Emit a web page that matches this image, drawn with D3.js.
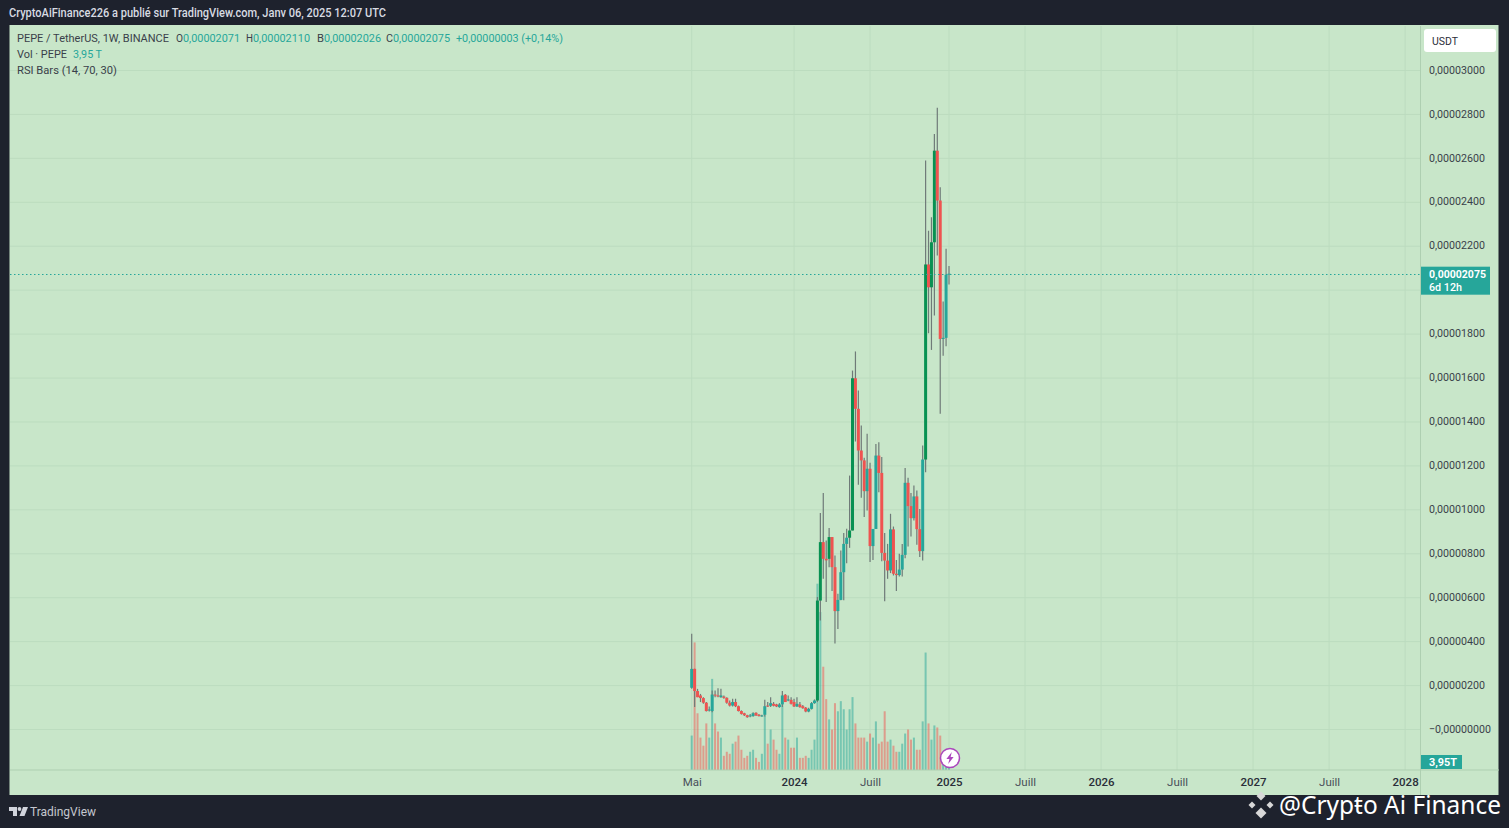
<!DOCTYPE html>
<html>
<head>
<meta charset="utf-8">
<script src="https://cdn.jsdelivr.net/npm/d3@7"></script>
<style>
html, body { margin: 0; background: #1e222d; overflow: hidden; }
svg { display: block; font-family: Roboto, sans-serif; }
</style>
</head>
<body>
<svg id="chart" width="1509" height="828"></svg>
<script>
// weekly candles, prices in units of 0.00000001
const firstWeek = new Date(2023, 4, 1)
const opens = [190,276,175,155,143,122,87,84,159,155,147,150,144,122,109,125,106,84,74,65,61,61,76,67,61,67,109,108,117,114,102,114,158,132,135,125,105,114,106,99,82,94,120,132,587,853,777,777,876,739,539,590,716,845,873,906,1599,1460,1270,1225,1085,1187,835,913,1247,1168,804,769,724,911,709,703,728,795,1123,1017,962,1061,912,812,1229,2117,2013,2218,2635,2408,1778,1783,2071]
const highs = [436,276,185,162,147,125,105,178,178,188,185,155,147,132,140,140,109,87,76,67,71,79,79,70,67,135,125,147,125,117,120,175,162,155,147,140,147,125,111,102,99,125,137,603,986,1077,860,917,876,792,618,815,894,914,1156,1634,1721,1543,1384,1237,1346,1214,913,1300,1308,1240,894,845,982,924,772,800,845,1191,1146,1077,1111,1088,1004,1293,2590,2271,2332,2711,2830,2469,1948,2188,2110]
const lows = [185,102,147,125,117,82,82,79,147,147,144,140,117,105,105,102,82,68,62,53,56,58,61,59,58,59,102,102,105,102,99,102,125,129,114,102,102,99,94,79,79,91,117,125,496,686,580,739,630,391,457,588,588,757,827,906,1311,1114,1055,967,997,762,772,913,1080,766,584,686,712,701,630,696,696,780,833,879,951,841,785,769,1171,1804,1728,1885,2158,1437,1702,1745,2026]
const closes = [276,175,147,143,122,84,91,159,155,150,155,144,122,109,125,106,84,71,65,56,64,74,64,61,64,106,106,120,108,105,114,155,125,137,117,105,117,102,97,82,94,120,132,587,853,777,770,876,739,539,590,716,845,873,906,1599,1460,1270,1225,1085,1187,835,913,1247,1168,804,769,724,911,709,703,728,795,1123,1017,962,1061,912,812,1229,2117,2013,2218,2635,2408,1778,1783,2070,2075]
// traded volume per week, in T
const volumes = [17,63,28,16,12,23,16,45,23,19,16,7,9,8,13,14,17,10,6,7,9,10,6,4,8,27,13,20,15,10,8,32,16,15,11,11,16,6,6,7,6,10,15,92,78,51,35,25,20,33,29,34,30,20,30,36,23,16,16,16,14,18,16,24,13,14,29,14,15,12,9,9,13,18,20,15,16,10,10,24,58,23,15,22,21,17,9,6,3.95]
// weeks where RSI Bars paints the candle as overbought
const overbought = [43,44,47,54,55,80,82,83]

const priceTicks = [3000,2800,2600,2400,2200,2000,1800,1600,1400,1200,1000,800,600,400,200,0]
const priceLabels = ["0,00003000","0,00002800","0,00002600","0,00002400","0,00002200","","0,00001800","0,00001600","0,00001400","0,00001200","0,00001000","0,00000800","0,00000600","0,00000400","0,00000200","−0,00000000"]
const timeTicks = [new Date(2023,4,1),new Date(2024,0,1),new Date(2024,6,1),new Date(2025,0,6),new Date(2025,6,7),new Date(2026,0,5),new Date(2026,6,6),new Date(2027,0,4),new Date(2027,6,5),new Date(2028,0,3)]
const timeLabels = ["Mai","2024","Juill","2025","Juill","2026","Juill","2027","Juill","2028"]
const boldTime = ["2024","2025","2026","2027","2028"]

const lastPrice = 2075
const lastVolume = 3.95

const UP = "#26a69a", DOWN = "#ef5350", HOT = "#089152", WICK = "#6f7a78"
const BG = "#c8e6c9", GRID = "#bcdcbf", INK = "#3a3f4a"
const pane = {left: 10, right: 1420.5, top: 26, bottom: 770, edge: 1499, foot: 795}
const week = 7 * 24 * 3600 * 1000

const svg = d3.select("#chart")
const bars = opens.map((o, i) => ({
  i, date: new Date(firstWeek.getTime() + i * week),
  o, h: highs[i], l: lows[i], c: closes[i], v: volumes[i],
  hot: overbought.includes(i)
}))

const x = d3.scaleTime().domain([firstWeek, new Date(2025,0,6)]).range([691.7, 949])
const y = d3.scaleLinear().domain([0, 3000]).range([729.5, 70.5])
const yVol = d3.scaleLinear().domain([0, 100]).range([pane.bottom, pane.bottom - 202.5])

// squeeze a text to the width it has in the picture
function label(xPos, yPos, str, width, fill, size = 11.5, weight = 400) {
  return svg.append("text").attr("x", xPos).attr("y", yPos).attr("fill", fill)
    .attr("font-size", size).attr("font-weight", weight)
    .attr("textLength", width).attr("lengthAdjust", "spacingAndGlyphs").text(str)
}

// pane background
svg.append("rect").attr("x", pane.left - 0.5).attr("y", pane.top - 1)
  .attr("width", pane.edge - pane.left).attr("height", pane.foot - pane.top + 1)
  .attr("fill", BG)

const clip = svg.append("clipPath").attr("id", "paneClip").append("rect")
  .attr("x", pane.left).attr("y", pane.top)
  .attr("width", pane.right - pane.left).attr("height", pane.bottom - pane.top)

// grid
const grid = svg.append("g").attr("clip-path", "url(#paneClip)")
grid.selectAll("line.h").data(priceTicks).join("line").attr("class", "h")
  .attr("x1", pane.left).attr("x2", pane.right)
  .attr("y1", d => y(d)).attr("y2", d => y(d))
  .attr("stroke", GRID)
grid.selectAll("line.v").data(timeTicks).join("line").attr("class", "v")
  .attr("y1", pane.top).attr("y2", pane.bottom)
  .attr("x1", d => x(d)).attr("x2", d => x(d))
  .attr("stroke", GRID)

// volume
const marks = svg.append("g").attr("clip-path", "url(#paneClip)")
marks.selectAll("rect.vol").data(bars).join("rect").attr("class", "vol")
  .attr("x", d => x(d.date) - 1).attr("width", 2)
  .attr("y", d => yVol(d.v)).attr("height", d => pane.bottom - yVol(d.v))
  .attr("fill", d => d.c >= d.o ? UP : DOWN).attr("opacity", 0.5)

// candles
marks.selectAll("line.wick").data(bars).join("line").attr("class", "wick")
  .attr("x1", d => x(d.date)).attr("x2", d => x(d.date))
  .attr("y1", d => y(d.h)).attr("y2", d => y(d.l))
  .attr("stroke", WICK).attr("stroke-width", 1.2)
marks.selectAll("rect.body").data(bars).join("rect").attr("class", "body")
  .attr("x", d => x(d.date) - 1.5).attr("width", 3)
  .attr("y", d => y(Math.max(d.o, d.c)))
  .attr("height", d => Math.max(1, Math.abs(y(d.o) - y(d.c))))
  .attr("fill", d => d.hot ? HOT : d.c >= d.o ? UP : DOWN)

// last price line
marks.append("line").attr("x1", pane.left).attr("x2", pane.right)
  .attr("y1", Math.round(y(lastPrice)) + 0.5).attr("y2", Math.round(y(lastPrice)) + 0.5)
  .attr("stroke", UP).attr("stroke-dasharray", "1.5 2.5")

// separators of the scales
svg.append("line").attr("x1", pane.right).attr("x2", pane.right).attr("y1", pane.top).attr("y2", pane.foot).attr("stroke", "#aecfb1")
svg.append("line").attr("x1", pane.left).attr("x2", pane.edge).attr("y1", pane.bottom).attr("y2", pane.bottom).attr("stroke", "#aecfb1")

// price axis
const yAxis = d3.axisRight(y).tickValues(priceTicks).tickSize(0).tickPadding(0)
  .tickFormat((d, i) => priceLabels[i])
svg.append("g").attr("transform", `translate(1429,-1)`).call(yAxis)
  .call(g => g.select(".domain").remove())
  .call(g => g.selectAll("text").attr("fill", INK).attr("font-size", 11.5).attr("font-family", "Roboto, sans-serif")
    .attr("textLength", (d, i) => priceLabels[i].length > 10 ? 62 : 56).attr("lengthAdjust", "spacingAndGlyphs"))

// time axis
const xAxis = d3.axisBottom(x).tickValues(timeTicks).tickSize(0).tickPadding(0)
  .tickFormat((d, i) => timeLabels[i])
svg.append("g").attr("transform", `translate(0,${pane.bottom + 8})`).call(xAxis)
  .call(g => g.select(".domain").remove())
  .call(g => g.selectAll("text")
    .attr("fill", (d, i) => boldTime.includes(timeLabels[i]) ? "#2a2e39" : "#4a4f5a")
    .attr("font-weight", (d, i) => boldTime.includes(timeLabels[i]) ? 500 : 400)
    .attr("font-size", 11.5).attr("font-family", "Roboto, sans-serif"))

// last price and volume tags
svg.append("rect").attr("x", 1421).attr("y", y(lastPrice) - 7).attr("width", 69).attr("height", 28).attr("fill", UP)
label(1429, y(lastPrice) + 4, "0,00002075", 57, "#fff", 11.5, 700)
label(1429, y(lastPrice) + 17, "6d 12h", 33, "#fff", 11.5, 500)
svg.append("rect").attr("x", 1421).attr("y", yVol(lastVolume) - 7).attr("width", 41).attr("height", 14).attr("fill", UP)
label(1429, yVol(lastVolume) + 4, "3,95T", 28, "#fff", 11.5, 700)

// currency button
svg.append("rect").attr("x", 1424).attr("y", 29).attr("width", 72).attr("height", 23).attr("rx", 3).attr("fill", "#fff")
label(1432, 45, "USDT", 26, "#2a2e39")

// legend
const legend = [
  [17, 42, "PEPE / TetherUS, 1W, BINANCE", 152, INK], [176, 42, "O", 7, INK], [183, 42, "0,00002071", 57, UP],
  [246, 42, "H", 7, INK], [253, 42, "0,00002110", 57, UP], [317, 42, "B", 7, INK], [324, 42, "0,00002026", 57, UP],
  [386, 42, "C", 7, INK], [393, 42, "0,00002075", 57, UP], [456, 42, "+0,00000003 (+0,14%)", 107, UP],
  [17, 58, "Vol · PEPE", 50, INK], [73, 58, "3,95 T", 29, UP], [17, 74, "RSI Bars (14, 70, 30)", 100, INK]
]
legend.forEach(d => label(d[0], d[1], d[2], d[3], d[4]))

// header
label(9, 17, "CryptoAiFinance226 a publié sur TradingView.com, Janv 06, 2025 12:07 UTC", 377, "#d8dbe2", 12, 500)

// bolt marker
const bolt = svg.append("g").attr("transform", `translate(950,758)`)
bolt.append("circle").attr("r", 9.5).attr("fill", "#fff").attr("stroke", "#ab47bc").attr("stroke-width", 1.5)
bolt.append("path").attr("d", "M1.8,-6 L-3.6,1 L-0.6,1 L-1.8,6 L3.6,-1 L0.6,-1 Z").attr("fill", "#ab47bc")

// TradingView logo
const tv = svg.append("g").attr("transform", "translate(9,807)").attr("fill", "#d1d4dc")
tv.append("path").attr("d", "M0,0 H8 V9 H4 V4 H0 Z")
tv.append("circle").attr("cx", 10.5).attr("cy", 2).attr("r", 1.9)
tv.append("path").attr("d", "M14,0 H19 L15.5,9 H10.5 Z")
label(30, 816, "TradingView", 66, "#c4c7cf", 13)

// watermark
const mark = svg.append("g").attr("transform", "translate(1261,805)").attr("fill", "#d8d8d8")
const diamonds = [[0,-9,4.5],[-9,0,3.5],[9,0,3.5],[0,8,5.5]]
mark.selectAll("path").data(diamonds).join("path")
  .attr("d", d => `M${d[0]},${d[1]-d[2]} L${d[0]+d[2]},${d[1]} L${d[0]},${d[1]+d[2]} L${d[0]-d[2]},${d[1]} Z`)
label(1279, 814, "@Crypŧo Ai Finance", 222, "#fff", 25).attr("font-family", "'Noto Sans', sans-serif")
</script>
</body>
</html>
